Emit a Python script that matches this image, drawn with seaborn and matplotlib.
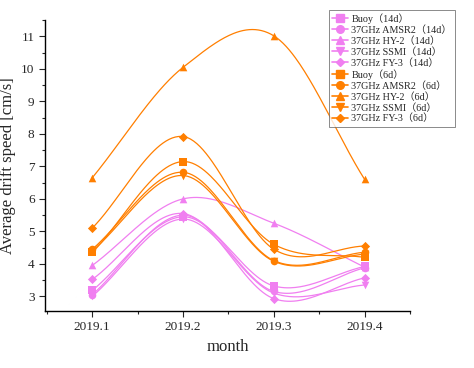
import numpy as np
import pandas as pd
import seaborn as sns
import matplotlib.pyplot as plt
from matplotlib.ticker import MultipleLocator

# months on the x axis
months = [2019.1, 2019.2, 2019.3, 2019.4]

# 14 day averages (pink)
buoy_14 = [3.18, 5.45, 3.32, 3.92]
amsr2_14 = [3.05, 5.50, 3.15, 3.88]
hy2_14 = [3.95, 6.00, 5.25, 3.90]
ssmi_14 = [3.00, 5.38, 3.10, 3.35]
fy3_14 = [3.52, 5.55, 2.93, 3.57]

# 6 day averages (orange)
buoy_6 = [4.35, 7.15, 4.60, 4.20]
amsr2_6 = [4.45, 6.82, 4.10, 4.36]
hy2_6 = [6.65, 10.05, 11.02, 6.60]
ssmi_6 = [4.40, 6.72, 4.08, 4.30]
fy3_6 = [5.10, 7.92, 4.45, 4.55]

names = ['Buoy', '37GHz AMSR2', '37GHz HY-2', '37GHz SSMI', '37GHz FY-3']
markers = ['s', 'o', '^', 'v', 'D']
pink = '#f07ff0'
orange = '#ff7f00'

rows = []
for vals, nm in zip([buoy_14, amsr2_14, hy2_14, ssmi_14, fy3_14], names):
    for m, v in zip(months, vals):
        rows.append({'month': m, 'speed': v, 'series': nm + '（14d）', 'color': pink})
for vals, nm in zip([buoy_6, amsr2_6, hy2_6, ssmi_6, fy3_6], names):
    for m, v in zip(months, vals):
        rows.append({'month': m, 'speed': v, 'series': nm + '（6d）', 'color': orange})
df = pd.DataFrame(rows)


def smooth_line(x, y, n=60):
    # cubic hermite (catmull-rom) through the points, just to draw a smooth line
    x = np.asarray(x, float)
    y = np.asarray(y, float)
    k = len(x)
    m = np.zeros(k)
    m[1:-1] = (y[2:] - y[:-2]) / (x[2:] - x[:-2])
    m[0] = (y[1] - y[0]) / (x[1] - x[0])
    m[-1] = (y[-1] - y[-2]) / (x[-1] - x[-2])
    xs_all, ys_all = [], []
    for i in range(k - 1):
        h = x[i + 1] - x[i]
        t = np.linspace(0, 1, n)
        h00 = 2 * t ** 3 - 3 * t ** 2 + 1
        h10 = t ** 3 - 2 * t ** 2 + t
        h01 = -2 * t ** 3 + 3 * t ** 2
        h11 = t ** 3 - t ** 2
        xs_all.append(x[i] + t * h)
        ys_all.append(h00 * y[i] + h10 * h * m[i] + h01 * y[i + 1] + h11 * h * m[i + 1])
    return np.concatenate(xs_all), np.concatenate(ys_all)


sns.set_style('ticks')
plt.rcParams['font.family'] = ['Liberation Serif', 'Noto Sans CJK SC']
plt.rcParams['xtick.direction'] = 'out'
plt.rcParams['ytick.direction'] = 'out'

fig = plt.figure(figsize=(4.74, 3.68), dpi=100)
ax = fig.add_axes([0.095, 0.155, 0.77, 0.79])

handles = []
for i, (series, grp) in enumerate(df.groupby('series', sort=False)):
    col = grp['color'].iloc[0]
    mk = markers[i % 5]
    xs, ys = smooth_line(grp['month'], grp['speed'])
    ax.plot(xs, ys, color=col, lw=0.9)
    sns.scatterplot(x='month', y='speed', data=grp, ax=ax, color=col, marker=mk,
                    s=30 if mk != 'D' else 22, edgecolor=col, linewidth=0, legend=False)
    h, = ax.plot([], [], color=col, marker=mk, markersize=5.5 if mk != 'D' else 4.5,
                 lw=1.2, label=series)
    handles.append(h)

ax.set_xlim(2019.048, 2019.45)
ax.set_ylim(2.55, 11.5)
ax.set_xticks(months)
ax.set_xticklabels([str(m) for m in months])
ax.xaxis.set_minor_locator(MultipleLocator(0.05))
ax.yaxis.set_major_locator(MultipleLocator(1))
ax.yaxis.set_minor_locator(MultipleLocator(0.5))
ax.tick_params(axis='both', labelsize=9.5, length=4, width=0.8)
ax.tick_params(which='minor', length=2.5, width=0.8)
sns.despine(ax=ax)
for s in ['left', 'bottom']:
    ax.spines[s].set_linewidth(1.0)
    ax.spines[s].set_color('black')

ax.set_xlabel('month', fontsize=12)
ax.set_ylabel('Average drift speed [cm/s]', fontsize=12)

leg = ax.legend(handles=handles, loc='upper right', bbox_to_anchor=(455 / 474, 1 - 10 / 368),
                bbox_transform=fig.transFigure, fontsize=7.3, frameon=True, fancybox=False,
                handlelength=1.6, handletextpad=0.3, labelspacing=0.13, borderpad=0.3,
                borderaxespad=0)
leg.get_frame().set_edgecolor('#555555')
leg.get_frame().set_linewidth(0.6)

fig.savefig('out.png', dpi=100)
